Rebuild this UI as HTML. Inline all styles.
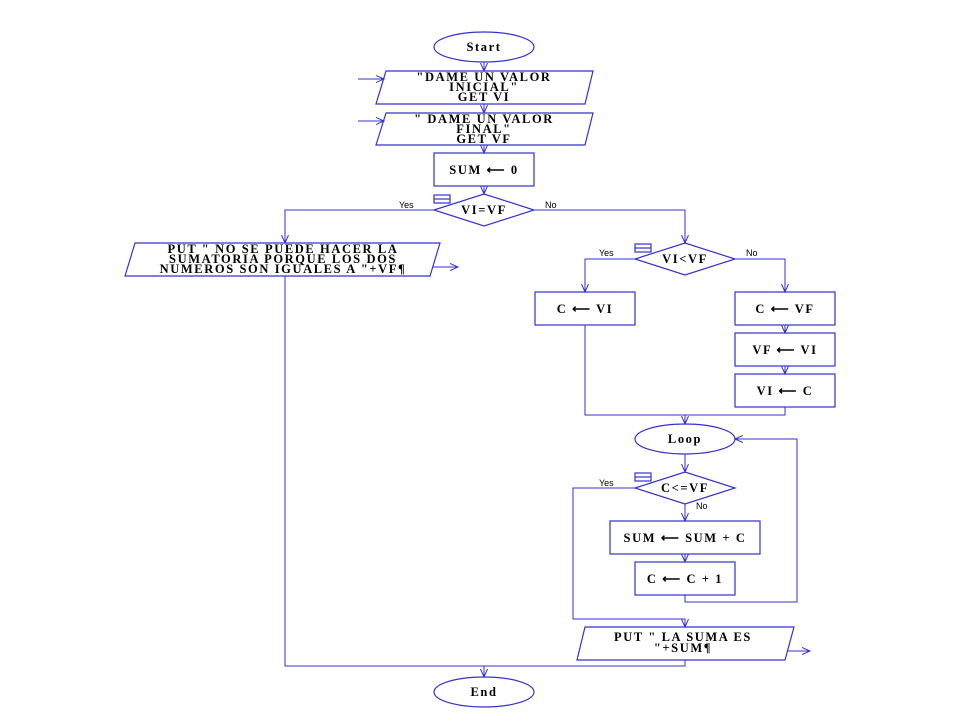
<!DOCTYPE html>
<html><head><meta charset="utf-8"><style>
html,body{margin:0;padding:0;background:#fff;}
svg{display:block;}
.t{font-family:"Liberation Serif",serif;font-weight:bold;font-size:12.5px;letter-spacing:1.6px;fill:#000;text-anchor:middle;}
.l{font-family:"Liberation Sans",sans-serif;font-size:9px;fill:#000;}
</style></head><body>
<svg width="960" height="720" viewBox="0 0 960 720" xmlns="http://www.w3.org/2000/svg">
<defs><marker id="a" markerWidth="10" markerHeight="10" refX="8" refY="5" orient="auto" markerUnits="userSpaceOnUse"><path d="M0,1.5 L8,5 L0,8.5" fill="none" stroke="#3333cc" stroke-width="1"/></marker></defs>
<g fill="none" stroke="#3333cc" stroke-width="1.2">
<ellipse cx="484" cy="47" rx="50" ry="15"/>
<polygon points="386,71 593,71 585,104 376,104"/>
<polygon points="386,113 593,113 585,145 376,145"/>
<rect x="434" y="153" width="100" height="33"/>
<polygon points="434,210 484,194 534,210 484,226"/>
<rect x="434" y="195" width="16" height="8"/><line x1="434" y1="199" x2="450" y2="199"/>
<polygon points="135,243 440,243 430,276 125,276"/>
<polygon points="635,259 685,243 735,259 685,275"/>
<rect x="635" y="244" width="16" height="8"/><line x1="635" y1="248" x2="651" y2="248"/>
<rect x="535" y="292" width="100" height="33"/>
<rect x="735" y="292" width="100" height="33"/>
<rect x="735" y="333" width="100" height="33"/>
<rect x="735" y="374" width="100" height="33"/>
<ellipse cx="685" cy="439" rx="50" ry="15"/>
<polygon points="635,488 685,472 735,488 685,504"/>
<rect x="635" y="473" width="16" height="8"/><line x1="635" y1="477" x2="651" y2="477"/>
<rect x="610" y="521" width="150" height="33"/>
<rect x="635" y="562" width="100" height="33"/>
<polygon points="585,627 794,627 785,660 577,660"/>
<ellipse cx="484" cy="692" rx="50" ry="15"/>
</g>
<g fill="none" stroke="#3333cc" stroke-width="1">
<polyline points="585,325 585,415 785,415 785,407"/>
<polyline points="285,276 285,666 685,666 685,660"/>
</g>
<g fill="none" stroke="#3333cc" stroke-width="1" marker-end="url(#a)">
<line x1="358" y1="79" x2="384" y2="79"/>
<line x1="358" y1="121" x2="384" y2="121"/>
<line x1="484" y1="62" x2="484" y2="71"/>
<line x1="484" y1="104" x2="484" y2="113"/>
<line x1="484" y1="145" x2="484" y2="153"/>
<line x1="484" y1="186" x2="484" y2="194"/>
<polyline points="434,210 285,210 285,243"/>
<polyline points="534,210 685,210 685,243"/>
<line x1="433" y1="267" x2="458" y2="267"/>
<polyline points="635,259 585,259 585,292"/>
<polyline points="735,259 785,259 785,292"/>
<line x1="785" y1="325" x2="785" y2="333"/>
<line x1="785" y1="366" x2="785" y2="374"/>
<line x1="685" y1="415" x2="685" y2="424"/>
<line x1="685" y1="454" x2="685" y2="472"/>
<line x1="685" y1="504" x2="685" y2="521"/>
<line x1="685" y1="554" x2="685" y2="562"/>
<polyline points="685,595 685,602 797,602 797,439 735,439"/>
<polyline points="635,488 573,488 573,619 685,619 685,627"/>
<line x1="787" y1="651" x2="810" y2="651"/>
<line x1="484" y1="666" x2="484" y2="677"/>
</g>
<text class="t" x="484" y="51">Start</text>
<text class="t" x="484" y="81">"DAME UN VALOR</text>
<text class="t" x="484" y="91">INICIAL"</text>
<text class="t" x="484" y="101">GET VI</text>
<text class="t" x="484" y="123">" DAME UN VALOR</text>
<text class="t" x="484" y="133">FINAL"</text>
<text class="t" x="484" y="143">GET VF</text>
<text class="t" x="484" y="174">SUM ⟵ 0</text>
<text class="t" x="484" y="214">VI=VF</text>
<text class="t" x="283" y="253">PUT "   NO SE PUEDE HACER LA</text>
<text class="t" x="283" y="263">SUMATORIA PORQUE LOS DOS</text>
<text class="t" x="283" y="273">NUMEROS SON IGUALES   A    "+VF¶</text>
<text class="t" x="685" y="263">VI&lt;VF</text>
<text class="t" x="585" y="313">C ⟵ VI</text>
<text class="t" x="785" y="313">C ⟵ VF</text>
<text class="t" x="785" y="354">VF ⟵ VI</text>
<text class="t" x="785" y="395">VI ⟵ C</text>
<text class="t" x="685" y="443">Loop</text>
<text class="t" x="685" y="492">C&lt;=VF</text>
<text class="t" x="685" y="542">SUM ⟵ SUM + C</text>
<text class="t" x="685" y="583">C ⟵ C + 1</text>
<text class="t" x="683" y="641">PUT " LA SUMA ES</text>
<text class="t" x="683" y="652">"+SUM¶</text>
<text class="t" x="484" y="696">End</text>
<text class="l" x="399" y="208">Yes</text>
<text class="l" x="545" y="208">No</text>
<text class="l" x="599" y="256">Yes</text>
<text class="l" x="746" y="256">No</text>
<text class="l" x="599" y="486">Yes</text>
<text class="l" x="696" y="509">No</text>
</svg>
</body></html>
